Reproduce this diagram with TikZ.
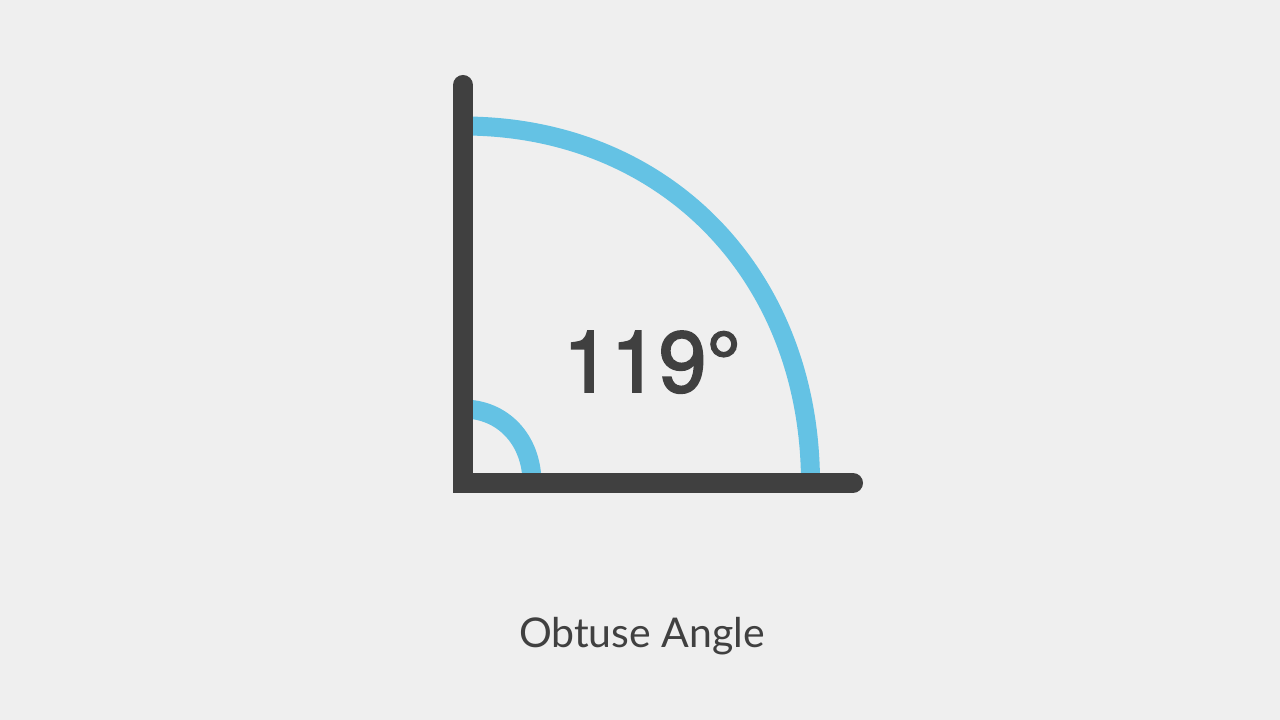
\documentclass[tikz,border=0pt]{standalone}
\usepackage{fontspec}
\setmainfont{TeX Gyre Heros}
\newfontfamily\numfont[FakeBold=2.2]{TeX Gyre Heros}
\newfontfamily\labelfont{Lato}
\definecolor{bgcol}{RGB}{239,239,239}
\definecolor{darkcol}{RGB}{64,64,64}
\definecolor{bluecol}{RGB}{100,194,228}
\begin{document}
\begin{tikzpicture}[x=1pt,y=1pt,
  arcline/.style={draw=bluecol,line width=19pt},
  armline/.style={draw=darkcol,line width=20pt,line cap=round,line join=miter},
  bigtext/.style={text=darkcol,font=\numfont\fontsize{86}{86}\selectfont,inner sep=0pt,anchor=base},
  captext/.style={text=darkcol,font=\labelfont\fontsize{41}{41}\selectfont,inner sep=0pt,anchor=base}]
\fill[bgcol] (0,0) rectangle (1280,720);
\useasboundingbox (0,0) rectangle (1280,720);
% corner and arm ends
\coordinate (O) at (463,237);
\coordinate (T) at (463,635);
\coordinate (R) at (853,237);
% big arc
\coordinate (A1) at (463,594);
\coordinate (A2) at (810.5,237);
\draw[arcline] (A1) .. controls (666,594) and (810.5,444) .. (A2);
% small arc
\coordinate (S1) at (463,311);
\coordinate (S2) at (532,237);
\draw[arcline] (S1) .. controls (503,311) and (532,280) .. (S2);
% arms
\draw[armline] (T) -- (O) -- (R);
% labels
\node[bigtext] (deg) at (652,328) {119°};
\node[captext] (cap) at (642,72) {Obtuse Angle};
\end{tikzpicture}
\end{document}
